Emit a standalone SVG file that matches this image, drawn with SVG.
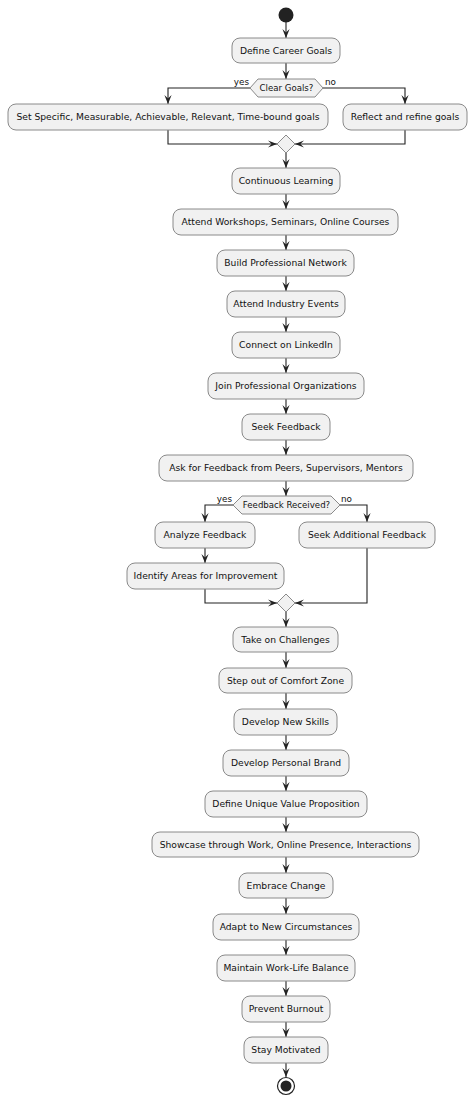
<svg xmlns="http://www.w3.org/2000/svg" width="474" height="1102" viewBox="0 0 474 1102">
<style>
.bg{fill:#ffffff}
.box{fill:#f1f1f1;stroke:#8a8a8a;stroke-width:1}
.t{font-family:"DejaVu Sans",sans-serif;font-size:9.2px;fill:#111;text-anchor:middle}
.d{font-family:"DejaVu Sans",sans-serif;font-size:8.6px;fill:#111;text-anchor:middle}
.l{font-family:"DejaVu Sans",sans-serif;font-size:8.8px;fill:#111}
.dia{fill:#f1f1f1;stroke:#8a8a8a;stroke-width:1}
.c{fill:none;stroke:#222;stroke-width:1.1}
</style>
<defs>
<marker id="ah" viewBox="0 0 10 8" markerWidth="9" markerHeight="7.5" refX="10" refY="4" orient="auto" markerUnits="userSpaceOnUse">
<path d="M0,0 L10,4 L0,8 L4,4 Z" fill="#222"/>
</marker>
</defs>
<rect class="bg" x="0" y="0" width="474" height="1102"/>
<g id="connectors">
<path class="c" d="M286,22 V38" marker-end="url(#ah)"/>
<path class="c" d="M286,63 V79" marker-end="url(#ah)"/>
<path class="c" d="M250,88 H168 V104" marker-end="url(#ah)"/>
<path class="c" d="M323,88 H405 V104" marker-end="url(#ah)"/>
<path class="c" d="M168,130 V144 H277" marker-end="url(#ah)"/>
<path class="c" d="M405,130 V144 H295" marker-end="url(#ah)"/>
<path class="c" d="M286,153 V168" marker-end="url(#ah)"/>
<path class="c" d="M286,194 V209" marker-end="url(#ah)"/>
<path class="c" d="M286,235 V250" marker-end="url(#ah)"/>
<path class="c" d="M286,276 V291" marker-end="url(#ah)"/>
<path class="c" d="M286,317 V332" marker-end="url(#ah)"/>
<path class="c" d="M286,358 V373" marker-end="url(#ah)"/>
<path class="c" d="M286,399 V414" marker-end="url(#ah)"/>
<path class="c" d="M286,440 V455" marker-end="url(#ah)"/>
<path class="c" d="M286,481 V496" marker-end="url(#ah)"/>
<path class="c" d="M233,505 H205 V522" marker-end="url(#ah)"/>
<path class="c" d="M340,505 H367 V522" marker-end="url(#ah)"/>
<path class="c" d="M205,548 V563" marker-end="url(#ah)"/>
<path class="c" d="M205,589 V603 H277" marker-end="url(#ah)"/>
<path class="c" d="M367,548 V603 H295" marker-end="url(#ah)"/>
<path class="c" d="M286,612 V627" marker-end="url(#ah)"/>
<path class="c" d="M286,652 V668" marker-end="url(#ah)"/>
<path class="c" d="M286,693 V709" marker-end="url(#ah)"/>
<path class="c" d="M286,735 V750" marker-end="url(#ah)"/>
<path class="c" d="M286,776 V791" marker-end="url(#ah)"/>
<path class="c" d="M286,817 V832" marker-end="url(#ah)"/>
<path class="c" d="M286,857 V873" marker-end="url(#ah)"/>
<path class="c" d="M286,898 V914" marker-end="url(#ah)"/>
<path class="c" d="M286,940 V955" marker-end="url(#ah)"/>
<path class="c" d="M286,981 V996" marker-end="url(#ah)"/>
<path class="c" d="M286,1022 V1037" marker-end="url(#ah)"/>
<path class="c" d="M286,1063 V1077" marker-end="url(#ah)"/>
</g>
<g id="start"><circle cx="286" cy="15" r="7.5" fill="#222"/></g>
<g id="n1"><rect class="box" x="232" y="38" width="108" height="25" rx="8"/><text class="t" x="286" y="53.5">Define Career Goals</text></g>
<g id="dec1"><polygon class="dia" points="250,88 258,79 315,79 323,88 315,97 258,97"/><text class="d" x="286.5" y="91">Clear Goals?</text>
<text class="l" x="249" y="85" text-anchor="end">yes</text><text class="l" x="325" y="85">no</text></g>
<g id="n2"><rect class="box" x="8" y="104" width="320" height="26" rx="8"/><text class="t" x="168" y="120">Set Specific, Measurable, Achievable, Relevant, Time-bound goals</text></g>
<g id="n3"><rect class="box" x="343" y="104" width="124" height="26" rx="8"/><text class="t" x="405" y="120">Reflect and refine goals</text></g>
<g id="merge1"><polygon class="dia" points="286,135 295,144 286,153 277,144"/></g>
<g id="n4"><rect class="box" x="232" y="168" width="108" height="26" rx="8"/><text class="t" x="286" y="184">Continuous Learning</text></g>
<g id="n5"><rect class="box" x="173" y="209" width="225" height="26" rx="8"/><text class="t" x="285.5" y="225">Attend Workshops, Seminars, Online Courses</text></g>
<g id="n6"><rect class="box" x="217" y="250" width="137" height="26" rx="8"/><text class="t" x="285.5" y="266">Build Professional Network</text></g>
<g id="n7"><rect class="box" x="227" y="291" width="118" height="26" rx="8"/><text class="t" x="286" y="307">Attend Industry Events</text></g>
<g id="n8"><rect class="box" x="232" y="332" width="108" height="26" rx="8"/><text class="t" x="286" y="348">Connect on LinkedIn</text></g>
<g id="n9"><rect class="box" x="208" y="373" width="156" height="26" rx="8"/><text class="t" x="286" y="389">Join Professional Organizations</text></g>
<g id="n10"><rect class="box" x="242" y="414" width="88" height="26" rx="8"/><text class="t" x="286" y="430">Seek Feedback</text></g>
<g id="n11"><rect class="box" x="159" y="455" width="254" height="26" rx="8"/><text class="t" x="286" y="471">Ask for Feedback from Peers, Supervisors, Mentors</text></g>
<g id="dec2"><polygon class="dia" points="233,505 242,496 331,496 340,505 331,514 242,514"/><text class="d" x="286.5" y="508">Feedback Received?</text>
<text class="l" x="232" y="502" text-anchor="end">yes</text><text class="l" x="341" y="502">no</text></g>
<g id="n12"><rect class="box" x="155" y="522" width="100" height="26" rx="8"/><text class="t" x="205" y="538">Analyze Feedback</text></g>
<g id="n13"><rect class="box" x="299" y="522" width="136" height="26" rx="8"/><text class="t" x="367" y="538">Seek Additional Feedback</text></g>
<g id="n14"><rect class="box" x="127" y="563" width="157" height="26" rx="8"/><text class="t" x="205.5" y="579">Identify Areas for Improvement</text></g>
<g id="merge2"><polygon class="dia" points="286,594 295,603 286,612 277,603"/></g>
<g id="n15"><rect class="box" x="233" y="627" width="105" height="25" rx="8"/><text class="t" x="285.5" y="642.5">Take on Challenges</text></g>
<g id="n16"><rect class="box" x="219" y="668" width="133" height="25" rx="8"/><text class="t" x="285.5" y="683.5">Step out of Comfort Zone</text></g>
<g id="n17"><rect class="box" x="234" y="709" width="103" height="26" rx="8"/><text class="t" x="285.5" y="725">Develop New Skills</text></g>
<g id="n18"><rect class="box" x="223" y="750" width="126" height="26" rx="8"/><text class="t" x="286" y="766">Develop Personal Brand</text></g>
<g id="n19"><rect class="box" x="205" y="791" width="162" height="26" rx="8"/><text class="t" x="286" y="807">Define Unique Value Proposition</text></g>
<g id="n20"><rect class="box" x="152" y="832" width="267" height="25" rx="8"/><text class="t" x="285.5" y="847.5">Showcase through Work, Online Presence, Interactions</text></g>
<g id="n21"><rect class="box" x="239" y="873" width="94" height="25" rx="8"/><text class="t" x="286" y="888.5">Embrace Change</text></g>
<g id="n22"><rect class="box" x="213" y="914" width="146" height="26" rx="8"/><text class="t" x="286" y="930">Adapt to New Circumstances</text></g>
<g id="n23"><rect class="box" x="217" y="955" width="138" height="26" rx="8"/><text class="t" x="286" y="971">Maintain Work-Life Balance</text></g>
<g id="n24"><rect class="box" x="242" y="996" width="88" height="26" rx="8"/><text class="t" x="286" y="1012">Prevent Burnout</text></g>
<g id="n25"><rect class="box" x="244" y="1037" width="84" height="26" rx="8"/><text class="t" x="286" y="1053">Stay Motivated</text></g>
<g id="end"><circle cx="286" cy="1086" r="8.5" fill="#fff" stroke="#222" stroke-width="1.2"/><circle cx="286" cy="1086" r="5.5" fill="#222"/></g>
</svg>
